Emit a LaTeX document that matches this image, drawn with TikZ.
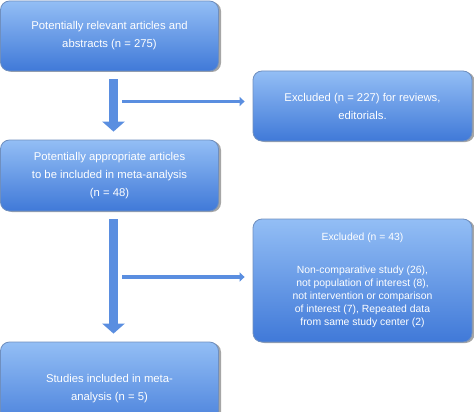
\documentclass[tikz,border=0pt]{standalone}
\usepackage{fontspec}
\setmainfont{Liberation Sans}
\usetikzlibrary{arrows.meta,shadows,calc}

\definecolor{boxtop}{HTML}{93BEF5}
\definecolor{boxbot}{HTML}{4079D8}
\definecolor{boxline}{HTML}{6F8FBF}
\definecolor{flow}{HTML}{5A8EE0}
\definecolor{flowline}{HTML}{4A78C0}

\tikzset{
  stage/.style={rectangle,rounded corners=9pt,draw=boxline,line width=0.8pt,
    top color=boxtop,bottom color=boxbot,text=white,align=center,
    drop shadow={shadow xshift=2.5pt,shadow yshift=-1pt,fill=black,opacity=.35},
    font=\fontsize{11.3}{18}\selectfont},
  downflow/.style={draw=flow,line width=9pt,-{Triangle[width=22pt,length=10pt]}},
  sideflow/.style={draw=flow,line width=3.5pt,-{Triangle[width=9pt,length=5pt]}}
}

\begin{document}
\begin{tikzpicture}[x=1pt,y=-1pt]
\clip (0,0) rectangle (474,412);
\fill[white] (0,0) rectangle (474,412);

\node[stage,minimum width=218pt,minimum height=70pt] (relevant) at (109.5,36)
  {Potentially relevant articles and\\abstracts (n = 275)};
\node[stage,minimum width=219pt,minimum height=70pt] (reviews) at (362.5,106)
  {Excluded (n = 227) for reviews,\\editorials.};
\node[stage,minimum width=218pt,minimum height=71pt] (appropriate) at (109.5,175.5)
  {Potentially appropriate articles\\to be included in meta-analysis\\(n = 48)};
\node[stage,minimum width=219pt,minimum height=123pt,font=\fontsize{10.4}{13}\selectfont] (excluded) at (362.5,280.5)
  {Excluded (n = 43)\\[20pt]Non-comparative study (26),\\not population of interest (8),\\not intervention or comparison\\of interest (7), Repeated data\\from same study center (2)};
\node[stage,minimum width=218pt,minimum height=94pt] (included) at (109.5,389)
  {Studies included in meta-\\analysis (n = 5)};

\coordinate (split1) at (122,101.5);
\coordinate (split2) at (122,277);

\draw[downflow] ($(relevant.south)+(4,8)$) -- ($(appropriate.north)+(4,-8)$);
\draw[downflow] ($(appropriate.south)+(4,8)$) -- ($(included.north)+(4,-8)$);
\draw[sideflow] (split1) -- ($(split1 -| reviews.west)+(-8,0)$);
\draw[sideflow] (split2) -- ($(split2 -| excluded.west)+(-8,0)$);
\end{tikzpicture}
\end{document}
